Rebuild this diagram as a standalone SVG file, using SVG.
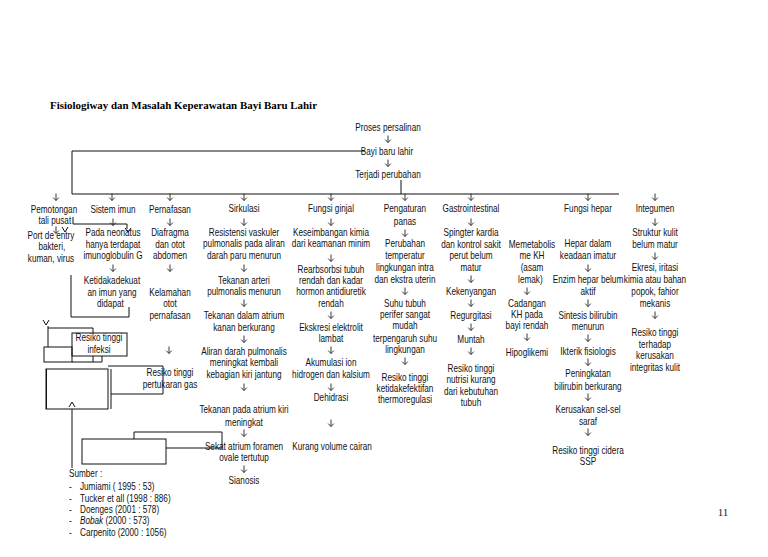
<svg xmlns="http://www.w3.org/2000/svg" xmlns:xlink="http://www.w3.org/1999/xlink" width="768" height="557" viewBox="0 0 768 557">
<style>
.t{font-family:"Liberation Sans Narrow","Liberation Sans",sans-serif;font-size:10px;text-anchor:middle;fill:#111}
.l{text-anchor:start}
.ttl{font-family:"Liberation Serif",serif;font-size:10px;font-weight:bold;fill:#000}
.pg{font-family:"Liberation Serif",serif;font-size:11px;fill:#222;text-anchor:middle}
.c{fill:none;stroke:#111;stroke-width:1}
.ar{fill:none;stroke:#222;stroke-width:0.9}
</style>
<defs>
<symbol id="a" overflow="visible"><path d="M0,-3.5V3.5M-2.8,0.6L0,3.5L2.8,0.6"/></symbol>
</defs>
<rect width="768" height="557" fill="#fff"/>
<text class="ttl" x="50" y="109" textLength="267" lengthAdjust="spacingAndGlyphs">Fisiologiway dan Masalah Keperawatan Bayi Baru Lahir</text>

<g id="connectors">
<path class="c" d="M365,151H72V194H619M401,180V194"/>
<path class="c" d="M73,217V224H127V229"/>
<polyline class="c" points="125,228 128,232 131,228"/>
<polyline class="c" stroke-width="1.4" points="62,227 65,232 68,227"/>
<path class="c" d="M71,275V317H129V307"/>
<polyline class="c" stroke-width="1.6" points="43,320 46,325 49,320"/>
<path class="c" d="M48,326V347M48,328H93V333"/>
<rect class="c" x="44" y="347" width="28" height="15"/>
<path class="c" d="M93,356V362M102,356V362M72,362H102"/>
<rect class="c" x="72" y="333" width="55" height="23" stroke="#555"/>
<rect class="c" x="46" y="369" width="62" height="40"/>
<path class="c" d="M46.5,369V409" stroke="#777" stroke-width="2.5"/>
<path class="c" d="M111,369V409M108,366H163V394H111"/>
<polyline class="c" stroke-width="1.6" points="69,407 72,402 75,407"/>
<path class="c" d="M72,409V468"/>
<rect class="c" x="82" y="439" width="84" height="25"/>
<path class="c" d="M134,439V432H222V448H166"/>
<g class="ar">
<use xlink:href="#a" x="388" y="139"/><use xlink:href="#a" x="388" y="163"/>
<use xlink:href="#a" x="56" y="197"/><use xlink:href="#a" x="56" y="230"/>
<use xlink:href="#a" x="112" y="197"/><use xlink:href="#a" x="113" y="222"/><use xlink:href="#a" x="113" y="268"/>
<use xlink:href="#a" x="170" y="197"/><use xlink:href="#a" x="170" y="222"/><use xlink:href="#a" x="170" y="268"/><use xlink:href="#a" x="169" y="350"/>
<use xlink:href="#a" x="244" y="197"/><use xlink:href="#a" x="244" y="222"/><use xlink:href="#a" x="244" y="268"/><use xlink:href="#a" x="244" y="303"/><use xlink:href="#a" x="244" y="339"/><use xlink:href="#a" x="244" y="387"/><use xlink:href="#a" x="244" y="433"/><use xlink:href="#a" x="244" y="469"/>
<use xlink:href="#a" x="331" y="197"/><use xlink:href="#a" x="331" y="222"/><use xlink:href="#a" x="331" y="258"/><use xlink:href="#a" x="331" y="315"/><use xlink:href="#a" x="331" y="350"/><use xlink:href="#a" x="331" y="387"/><use xlink:href="#a" x="331" y="423"/>
<use xlink:href="#a" x="405" y="197"/><use xlink:href="#a" x="405" y="233"/><use xlink:href="#a" x="405" y="291"/><use xlink:href="#a" x="405" y="361"/>
<use xlink:href="#a" x="471" y="197"/><use xlink:href="#a" x="471" y="222"/><use xlink:href="#a" x="471" y="279"/><use xlink:href="#a" x="471" y="303"/><use xlink:href="#a" x="471" y="327"/><use xlink:href="#a" x="471" y="351"/>
<use xlink:href="#a" x="527" y="291"/><use xlink:href="#a" x="527" y="337"/>
<use xlink:href="#a" x="588" y="197"/><use xlink:href="#a" x="588" y="268"/><use xlink:href="#a" x="588" y="303"/><use xlink:href="#a" x="588" y="338"/><use xlink:href="#a" x="588" y="362"/><use xlink:href="#a" x="588" y="397"/><use xlink:href="#a" x="588" y="432"/>
<use xlink:href="#a" x="655" y="197"/><use xlink:href="#a" x="655" y="222"/><use xlink:href="#a" x="655" y="256"/><use xlink:href="#a" x="655" y="315"/>
</g>
</g>

<g id="n-proses" transform="matrix(0.82,0,0,1,69.84,0)"><text class="t" x="388" y="131.5">Proses persalinan</text></g>
<g id="n-bayi" transform="matrix(0.82,0,0,1,69.66,0)"><text class="t" x="387" y="155.5">Bayi baru lahir</text></g>
<g id="n-terjadi" transform="matrix(0.82,0,0,1,69.84,0)"><text class="t" x="388" y="178.5">Terjadi perubahan</text></g>

<g id="n-pemotongan" transform="matrix(0.82,0,0,1,9.72,0)"><text class="t" x="54" y="213.5">Pemotongan</text><text class="t" x="55" y="224.5">tali pusat</text></g>
<g id="n-portde" transform="matrix(0.82,0,0,1,9.18,0)"><text class="t" x="51" y="239.5">Port de entry</text><text class="t" x="52" y="250.5">bakteri,</text><text class="t" x="51" y="262.5">kuman, virus</text></g>

<g id="n-imun" transform="matrix(0.82,0,0,1,20.34,0)"><text class="t" x="113" y="213.5">Sistem imun</text></g>
<g id="n-neonatus" transform="matrix(0.82,0,0,1,20.34,0)"><text class="t" x="113" y="236.5">Pada neonatus</text><text class="t" x="113" y="248.5">hanya terdapat</text><text class="t" x="113" y="259.5">imunoglobulin G</text></g>
<g id="n-ketidak" transform="matrix(0.82,0,0,1,20.16,0)"><text class="t" x="112" y="284.5">Ketidakadekuat</text><text class="t" x="112" y="296.5">an imun yang</text><text class="t" x="110" y="307.5">didapat</text></g>
<g id="n-infeksi" transform="matrix(0.82,0,0,1,17.82,0)"><text class="t" x="99" y="341.5">Resiko tinggi</text><text class="t" x="99" y="353.5">infeksi</text></g>

<g id="n-nafas" transform="matrix(0.82,0,0,1,30.6,0)"><text class="t" x="170" y="213.5">Pernafasan</text></g>
<g id="n-diafragma" transform="matrix(0.82,0,0,1,30.6,0)"><text class="t" x="170" y="236.5">Diafragma</text><text class="t" x="170" y="248.5">dan otot</text><text class="t" x="170" y="259.5">abdomen</text></g>
<g id="n-kelamahan" transform="matrix(0.82,0,0,1,30.6,0)"><text class="t" x="170" y="296.5">Kelamahan</text><text class="t" x="170" y="307.5">otot</text><text class="t" x="170" y="319.5">pernafasan</text></g>
<g id="n-gas" transform="matrix(0.82,0,0,1,30.6,0)"><text class="t" x="170" y="376.5">Resiko tinggi</text><text class="t" x="170" y="388.5">pertukaran gas</text></g>

<g id="n-sirkulasi" transform="matrix(0.82,0,0,1,43.92,0)"><text class="t" x="244" y="212.5">Sirkulasi</text></g>
<g id="n-resistensi" transform="matrix(0.82,0,0,1,43.92,0)"><text class="t" x="244" y="236.5">Resistensi vaskuler</text><text class="t" x="244" y="247.5">pulmonalis pada aliran</text><text class="t" x="244" y="259.5">darah paru menurun</text></g>
<g id="n-arteri" transform="matrix(0.82,0,0,1,43.92,0)"><text class="t" x="244" y="284.5">Tekanan arteri</text><text class="t" x="244" y="295.5">pulmonalis menurun</text></g>
<g id="n-atriumkanan" transform="matrix(0.82,0,0,1,43.92,0)"><text class="t" x="244" y="319.5">Tekanan dalam atrium</text><text class="t" x="244" y="331.5">kanan berkurang</text></g>
<g id="n-aliran" transform="matrix(0.82,0,0,1,43.92,0)"><text class="t" x="244" y="355.5">Aliran darah pulmonalis</text><text class="t" x="244" y="366.5">meningkat kembali</text><text class="t" x="244" y="378.5">kebagian kiri jantung</text></g>
<g id="n-atriumkiri" transform="matrix(0.82,0,0,1,43.92,0)"><text class="t" x="244" y="413.5">Tekanan pada atrium kiri</text><text class="t" x="244" y="426.5">meningkat</text></g>
<g id="n-sekat" transform="matrix(0.82,0,0,1,43.92,0)"><text class="t" x="244" y="450.5">Sekat atrium foramen</text><text class="t" x="244" y="461.5">ovale tertutup</text></g>
<g id="n-sianosis" transform="matrix(0.82,0,0,1,43.92,0)"><text class="t" x="244" y="484.5">Sianosis</text></g>

<g id="n-ginjal" transform="matrix(0.82,0,0,1,59.58,0)"><text class="t" x="331" y="212.5">Fungsi ginjal</text></g>
<g id="n-keseimbangan" transform="matrix(0.82,0,0,1,59.58,0)"><text class="t" x="331" y="236.5">Keseimbangan kimia</text><text class="t" x="331" y="247.5">dari keamanan minim</text></g>
<g id="n-rearbsorbsi" transform="matrix(0.82,0,0,1,59.58,0)"><text class="t" x="331" y="273.5">Rearbsorbsi tubuh</text><text class="t" x="331" y="284.5">rendah dan kadar</text><text class="t" x="331" y="295.5">hormon antidiuretik</text><text class="t" x="331" y="307.5">rendah</text></g>
<g id="n-ekskresi" transform="matrix(0.82,0,0,1,59.58,0)"><text class="t" x="331" y="331.5">Ekskresi elektrolit</text><text class="t" x="331" y="342.5">lambat</text></g>
<g id="n-akumulasi" transform="matrix(0.82,0,0,1,59.58,0)"><text class="t" x="331" y="366.5">Akumulasi ion</text><text class="t" x="331" y="378.5">hidrogen dan kalsium</text></g>
<g id="n-dehidrasi" transform="matrix(0.82,0,0,1,59.58,0)"><text class="t" x="331" y="401.5">Dehidrasi</text></g>
<g id="n-kurang" transform="matrix(0.82,0,0,1,59.76,0)"><text class="t" x="332" y="450.5">Kurang volume cairan</text></g>

<g id="n-panas" transform="matrix(0.82,0,0,1,72.9,0)"><text class="t" x="405" y="212.5">Pengaturan</text><text class="t" x="405" y="225.5">panas</text></g>
<g id="n-perubahan" transform="matrix(0.82,0,0,1,72.9,0)"><text class="t" x="405" y="247.5">Perubahan</text><text class="t" x="405" y="259.5">temperatur</text><text class="t" x="405" y="271.5">lingkungan intra</text><text class="t" x="405" y="283.5">dan ekstra uterin</text></g>
<g id="n-suhu" transform="matrix(0.82,0,0,1,72.9,0)"><text class="t" x="405" y="307.5">Suhu tubuh</text><text class="t" x="405" y="318.5">perifer sangat</text><text class="t" x="405" y="329.5">mudah</text><text class="t" x="405" y="342.5">terpengaruh suhu</text><text class="t" x="405" y="353.5">lingkungan</text></g>
<g id="n-thermo" transform="matrix(0.82,0,0,1,72.9,0)"><text class="t" x="405" y="381.5">Resiko tinggi</text><text class="t" x="405" y="392.5">ketidakefektifan</text><text class="t" x="405" y="403.5">thermoregulasi</text></g>

<g id="n-gastro" transform="matrix(0.82,0,0,1,84.78,0)"><text class="t" x="471" y="212.5">Gastrointestinal</text></g>
<g id="n-spingter" transform="matrix(0.82,0,0,1,84.78,0)"><text class="t" x="471" y="236.5">Spingter kardia</text><text class="t" x="471" y="248.5">dan kontrol sakit</text><text class="t" x="471" y="259.5">perut belum</text><text class="t" x="471" y="271.5">matur</text></g>
<g id="n-kenyang" transform="matrix(0.82,0,0,1,84.78,0)"><text class="t" x="471" y="295.5">Kekenyangan</text></g>
<g id="n-regurgitasi" transform="matrix(0.82,0,0,1,84.78,0)"><text class="t" x="471" y="319.5">Regurgitasi</text></g>
<g id="n-muntah" transform="matrix(0.82,0,0,1,84.78,0)"><text class="t" x="471" y="343.5">Muntah</text></g>
<g id="n-nutrisi" transform="matrix(0.82,0,0,1,84.78,0)"><text class="t" x="471" y="372.5">Resiko tinggi</text><text class="t" x="471" y="383.5">nutrisi kurang</text><text class="t" x="471" y="395.5">dari kebutuhan</text><text class="t" x="471" y="406.5">tubuh</text></g>

<g id="n-metabolis" transform="matrix(0.82,0,0,1,95.76,0)"><text class="t" x="532" y="248.5">Memetabolis</text><text class="t" x="532" y="259.5">me KH</text><text class="t" x="532" y="271.5">(asam</text><text class="t" x="530" y="283.5">lemak)</text></g>
<g id="n-cadangan" transform="matrix(0.82,0,0,1,94.86,0)"><text class="t" x="527" y="307.5">Cadangan</text><text class="t" x="527" y="318.5">KH pada</text><text class="t" x="527" y="329.5">bayi rendah</text></g>
<g id="n-hipo" transform="matrix(0.82,0,0,1,94.86,0)"><text class="t" x="527" y="356.5">Hipoglikemi</text></g>

<g id="n-hepar" transform="matrix(0.82,0,0,1,105.84,0)"><text class="t" x="588" y="212.5">Fungsi hepar</text></g>
<g id="n-hepardalam" transform="matrix(0.82,0,0,1,105.84,0)"><text class="t" x="588" y="247.5">Hepar dalam</text><text class="t" x="588" y="259.5">keadaan imatur</text></g>
<g id="n-enzim" transform="matrix(0.82,0,0,1,105.84,0)"><text class="t" x="588" y="283.5">Enzim hepar belum</text><text class="t" x="588" y="295.5">aktif</text></g>
<g id="n-sintesis" transform="matrix(0.82,0,0,1,105.84,0)"><text class="t" x="588" y="319.5">Sintesis bilirubin</text><text class="t" x="588" y="330.5">menurun</text></g>
<g id="n-ikterik" transform="matrix(0.82,0,0,1,105.84,0)"><text class="t" x="588" y="355.5">Ikterik fisiologis</text></g>
<g id="n-peningkatan" transform="matrix(0.82,0,0,1,105.84,0)"><text class="t" x="588" y="377.5">Peningkatan</text><text class="t" x="588" y="390.5">bilirubin berkurang</text></g>
<g id="n-kerusakan" transform="matrix(0.82,0,0,1,105.84,0)"><text class="t" x="588" y="413.5">Kerusakan sel-sel</text><text class="t" x="588" y="425.5">saraf</text></g>
<g id="n-cidera" transform="matrix(0.82,0,0,1,105.84,0)"><text class="t" x="588" y="454.5">Resiko tinggi cidera</text><text class="t" x="588" y="465.5">SSP</text></g>

<g id="n-integumen" transform="matrix(0.82,0,0,1,117.9,0)"><text class="t" x="655" y="212.5">Integumen</text></g>
<g id="n-struktur" transform="matrix(0.82,0,0,1,117.9,0)"><text class="t" x="655" y="236.5">Struktur kulit</text><text class="t" x="655" y="248.5">belum matur</text></g>
<g id="n-ekresi" transform="matrix(0.82,0,0,1,117.9,0)"><text class="t" x="655" y="271.5">Ekresi, iritasi</text><text class="t" x="655" y="283.5">kimia atau bahan</text><text class="t" x="655" y="295.5">popok, fahior</text><text class="t" x="655" y="307.5">mekanis</text></g>
<g id="n-kulit" transform="matrix(0.82,0,0,1,117.9,0)"><text class="t" x="655" y="336.5">Resiko tinggi</text><text class="t" x="655" y="348.5">terhadap</text><text class="t" x="655" y="359.5">kerusakan</text><text class="t" x="655" y="371.5">integritas kulit</text></g>

<g id="sumber" transform="matrix(0.82,0,0,1,12.42,0)">
<text class="t l" x="69" y="477.5">Sumber :</text>
<text class="t l" x="69" y="490.5">-</text><text class="t l" x="82.4" y="490.5">Jumiami ( 1995 : 53)</text>
<text class="t l" x="69" y="502.5">-</text><text class="t l" x="82.4" y="502.5">Tucker et all (1998 : 886)</text>
<text class="t l" x="69" y="513.5">-</text><text class="t l" x="82.4" y="513.5">Doenges (2001 : 578)</text>
<text class="t l" x="69" y="524.5">-</text><text class="t l" x="82.4" y="524.5"><tspan font-style="italic">Bobak</tspan> (2000 : 573)</text>
<text class="t l" x="69" y="536.5">-</text><text class="t l" x="82.4" y="536.5">Carpenito (2000 : 1056)</text>
</g>
<text class="pg" x="723" y="516">11</text>
</svg>
